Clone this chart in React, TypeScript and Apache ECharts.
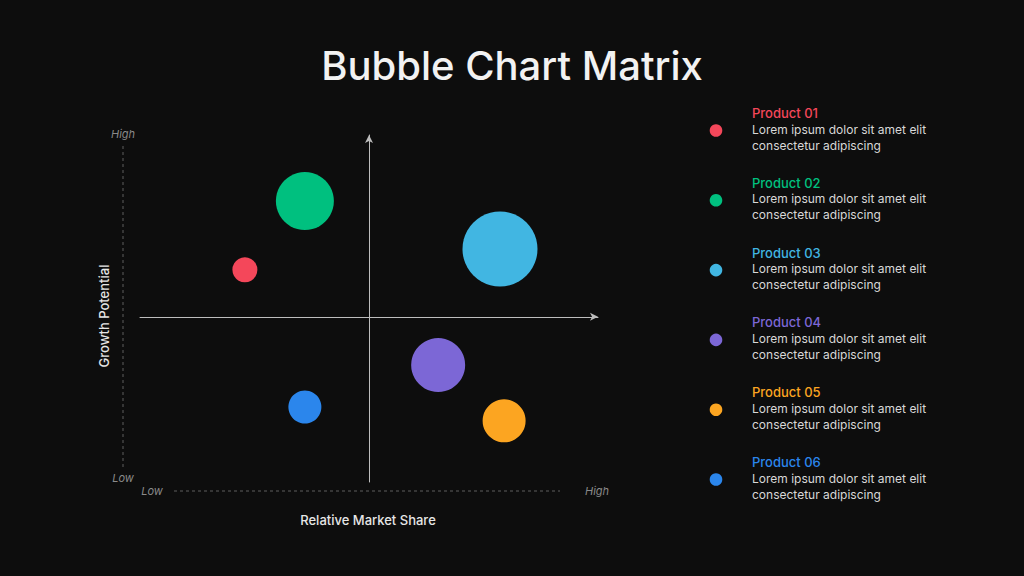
import React, { useEffect, useRef } from "react";
import * as echarts from "echarts";

const products = ["Product 01", "Product 02", "Product 03", "Product 04", "Product 05", "Product 06"];
const colors = ["#f4475a", "#00c07f", "#41b6e2", "#7c67d6", "#fca521", "#2b86ec"];
const marketShare = [-2.71, -1.4, 2.86, 1.51, 2.95, -1.4];
const growthPotential = [1.42, 3.5, 2.05, -1.46, -3.15, -2.73];
const bubbleSize = [25, 58, 75, 54, 43, 33];
const descLine1 = "Lorem ipsum dolor sit amet elit";
const descLine2 = "consectetur adipiscing";
const lowLabel = "Low";
const highLabel = "High";
const title = "Bubble Chart Matrix";
const xName = "Relative Market Share";
const yName = "Growth Potential";

const FONT = "Inter, 'Noto Sans', sans-serif";

export default function App() {
  const ref = useRef<HTMLDivElement>(null);
  useEffect(() => {
    document.body.style.margin = "0";
    const chart = echarts.init(ref.current!, null, { renderer: "svg" });
    const dash = { stroke: "#5e5e5e", lineWidth: 1, lineDash: [3, 3] };
    const tickStyle = (text: string, x: number, y: number, align: string) => ({
      type: "text",
      x,
      y,
      style: {
        text,
        fill: "#8a8a8a",
        font: `italic 11px ${FONT}`,
        textAlign: align,
        align,
        textVerticalAlign: "middle",
        verticalAlign: "middle",
      },
    });
    const legendEls: any[] = [];
    products.forEach((p, i) => {
      const top = 113 + i * 69.8;
      legendEls.push({
        type: "circle",
        shape: { cx: 716, cy: top + 17.5, r: 6.3 },
        style: { fill: colors[i] },
      });
      legendEls.push({
        type: "text",
        x: 752,
        y: top,
        style: { text: p, fill: colors[i], font: `500 13px ${FONT}`, verticalAlign: "middle", textVerticalAlign: "middle" },
      });
      legendEls.push({
        type: "text",
        x: 752,
        y: top + 16,
        style: { text: descLine1, fill: "#d8d8d8", font: `12px ${FONT}`, verticalAlign: "middle", textVerticalAlign: "middle" },
      });
      legendEls.push({
        type: "text",
        x: 752,
        y: top + 32,
        style: { text: descLine2, fill: "#d8d8d8", font: `12px ${FONT}`, verticalAlign: "middle", textVerticalAlign: "middle" },
      });
    });

    const axisCommon = {
      type: "value",
      axisTick: { show: false },
      axisLabel: { show: false },
      splitLine: { show: false },
      axisLine: {
        show: true,
        onZero: true,
        symbol: ["none", "arrow"],
        symbolSize: [6, 8],
        lineStyle: { color: "#bdbdbd", width: 1 },
      },
    };

    chart.setOption({
      animation: false,
      backgroundColor: "#0d0d0d",
      grid: { left: 140, right: 426, top: 135, bottom: 94 },
      xAxis: { ...axisCommon, min: -5, max: 5 },
      yAxis: { ...axisCommon, min: -5, max: 5.5 },
      series: products.map((p, i) => ({
        name: p,
        type: "scatter",
        data: [[marketShare[i], growthPotential[i], bubbleSize[i]]],
        symbolSize: (v: number[]) => v[2],
        itemStyle: { color: colors[i], opacity: 1 },
      })),
      graphic: [
        {
          type: "text",
          x: 512,
          y: 65,
          style: {
            text: title,
            fill: "#f2f2f2",
            font: `500 40px ${FONT}`,
            textAlign: "center",
            align: "center",
            textVerticalAlign: "middle",
            verticalAlign: "middle",
          },
        },
        { type: "line", shape: { x1: 123, y1: 146, x2: 123, y2: 470 }, style: dash },
        { type: "line", shape: { x1: 174, y1: 491, x2: 560, y2: 491 }, style: dash },
        tickStyle(highLabel, 123, 134, "center"),
        tickStyle(lowLabel, 123, 478, "center"),
        tickStyle(lowLabel, 152, 491, "center"),
        tickStyle(highLabel, 597, 491, "center"),
        {
          type: "text",
          x: 104,
          y: 316,
          rotation: Math.PI / 2,
          style: {
            text: yName,
            fill: "#e6e6e6",
            font: `500 13px ${FONT}`,
            textAlign: "center",
            align: "center",
            textVerticalAlign: "middle",
            verticalAlign: "middle",
          },
        },
        {
          type: "text",
          x: 368,
          y: 520,
          style: {
            text: xName,
            fill: "#e6e6e6",
            font: `500 13px ${FONT}`,
            textAlign: "center",
            align: "center",
            textVerticalAlign: "middle",
            verticalAlign: "middle",
          },
        },
        ...legendEls,
      ],
    });
    return () => chart.dispose();
  }, []);
  return <div ref={ref} style={{ width: 1024, height: 576 }} />;
}
